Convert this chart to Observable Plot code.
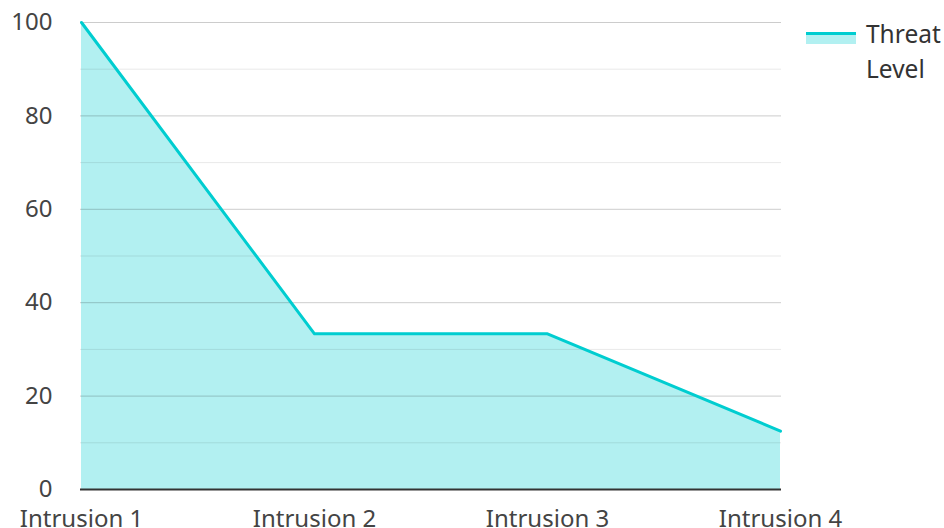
<!DOCTYPE html>
<html><head><meta charset="utf-8">
<script src="https://cdn.jsdelivr.net/npm/d3@7"></script>
<script src="https://cdn.jsdelivr.net/npm/@observablehq/plot@0.6"></script>
<style>
body{margin:0;background:#fff;font-family:"Noto Sans","Open Sans",sans-serif;}
#wrap{position:relative;width:944px;height:528px;overflow:hidden;}
#legend{position:absolute;left:806px;top:16px;display:flex;align-items:flex-start;font-size:24.5px;color:#333;line-height:35px;}
#legend .sw{width:50px;height:12px;margin-top:16px;margin-right:10px;background:rgba(0,206,209,0.3);border-top:3px solid #00cdd0;box-sizing:border-box;}
</style></head>
<body><div id="wrap"><div id="legend"><div class="sw"></div><div>Threat<br>Level</div></div></div>
<script>
const categories = ["Intrusion 1","Intrusion 2","Intrusion 3","Intrusion 4"];
const threatLevel = [100, 33.33, 33.33, 12.5];
const majorTicks = [0,20,40,60,80,100];
const minorTicks = [10,30,50,70,90];
const data = categories.map((c,i)=>({cat:c, v:threatLevel[i]}));
const chart = Plot.plot({
  width:944, height:528,
  marginLeft:80, marginRight:163, marginTop:22, marginBottom:39,
  style:{fontFamily:'"Noto Sans","Open Sans",sans-serif', fontSize:"24px", color:"#444", background:"#fff", overflow:"visible"},
  x:{type:"point", domain:categories, padding:0, label:null},
  y:{domain:[0,100], label:null},
  marks:[
    Plot.areaY(data,{x:"cat", y:"v", fill:"#00ced1", fillOpacity:0.3}),
    Plot.ruleY(minorTicks,{stroke:"#000", strokeOpacity:0.09}),
    Plot.ruleY(majorTicks.filter(d=>d>0),{stroke:"#000", strokeOpacity:0.2}),
    Plot.lineY(data,{x:"cat", y:"v", stroke:"#00cdd0", strokeWidth:3}),
    Plot.ruleY([0],{stroke:"#333", strokeWidth:2}),
    Plot.axisY(majorTicks,{tickSize:0, tickPadding:28, fontSize:24, fill:"#444"}),
    Plot.axisX({tickSize:0, tickPadding:20, fontSize:24, fill:"#444"})
  ]
});
document.getElementById("wrap").prepend(chart);
</script></body></html>
